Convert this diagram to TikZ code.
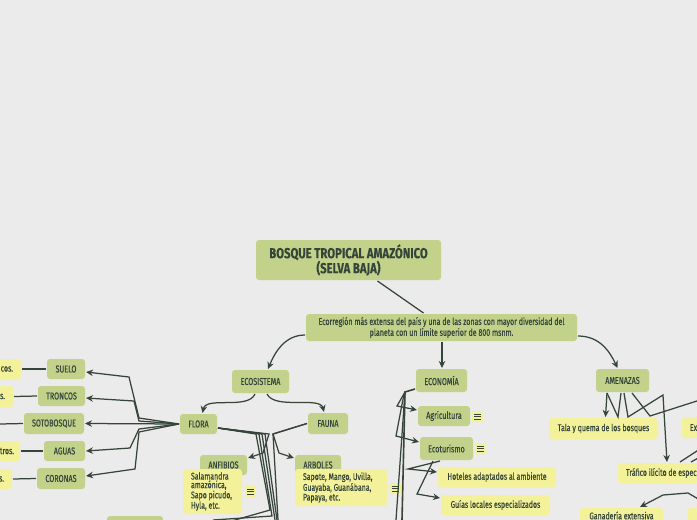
\documentclass[tikz,border=0pt]{standalone}
\usepackage{fontspec}
\setmainfont{Fira Sans}[FakeStretch=0.72,FakeBold=0.35]
\newfontfamily\rootfont{Fira Sans}[FakeStretch=0.78,FakeBold=0.2]
\usetikzlibrary{calc,arrows.meta}
\definecolor{bgc}{HTML}{EBEBEB}
\definecolor{grn}{HTML}{C2D28A}
\definecolor{yel}{HTML}{F3F199}
\definecolor{ink}{HTML}{36453A}
\tikzset{
  box/.style={rounded corners=3pt,inner sep=0pt,outer sep=1pt,align=center,text=ink},
  gbox/.style={box,fill=grn,font=\fontsize{10}{10.5}\selectfont},
  ybox/.style={box,fill=yel,font=\fontsize{9.7}{8.6}\selectfont},
  conn/.style={draw=ink,line width=1.25pt,line join=miter},
  arr/.style={conn,-{Stealth[length=7pt,width=6.5pt]}},
  mbar/.style={draw=ink,line width=.7pt}
}
\newcommand{\bx}[7]{%
  \pgfmathsetmacro{\cxx}{(#3+#5)/2}\pgfmathsetmacro{\cyy}{(#4+#6)/2}%
  \pgfmathsetmacro{\ww}{#5-#3}\pgfmathsetmacro{\hh}{#6-#4}%
  \node[#2,minimum width=\ww pt,minimum height=\hh pt] (#1) at (\cxx,\cyy) {#7};}
\newcommand{\menuicon}[3]{%
  \fill[yel,rounded corners=1pt] (#2,#3) rectangle ++(11,11);
  \draw[mbar] (#2+2,#3+3) -- ++(7,0) (#2+2,#3+5.5) -- ++(7,0) (#2+2,#3+8) -- ++(7,0);}
\begin{document}
\begin{tikzpicture}[x=1pt,y=-1pt]
\clip (0,0) rectangle (697,520);
\fill[bgc] (0,0) rectangle (697,520);
% main
\bx{root}{gbox,font=\fontsize{14.5}{15}\selectfont\rootfont\bfseries}{256}{240}{441}{280}{BOSQUE TROPICAL AMAZÓNICO\\(SELVA BAJA)}
\bx{desc}{gbox,font=\fontsize{9.8}{9.6}\selectfont}{306}{314}{577}{341}{Ecorregión más extensa del país y una de las zonas con mayor diversidad del\\planeta con un límite superior de 800 msnm.}
\bx{ecosis}{gbox}{232}{370}{289}{393}{ECOSISTEMA}
\bx{econ}{gbox}{416}{369}{467}{392}{ECONOMÍA}
\bx{amen}{gbox}{596}{369}{649}{392}{AMENAZAS}
\bx{flora}{gbox}{180}{414}{217}{434}{FLORA}
\bx{fauna}{gbox}{308}{413}{348}{434}{FAUNA}
\bx{suelo}{gbox}{47}{359}{85}{379}{SUELO}
\bx{troncos}{gbox}{38}{386}{85}{406}{TRONCOS}
\bx{soto}{gbox}{24}{413}{84}{434}{SOTOBOSQUE}
\bx{aguas}{gbox}{44}{441}{85}{461}{AGUAS}
\bx{coronas}{gbox}{37}{468}{85}{489}{CORONAS}
\bx{ysuelo}{ybox,text width=25pt,align=flush right}{-20}{359}{21}{379}{cos.}
\bx{ytron}{ybox,text width=17pt,align=flush right}{-20}{386}{13}{407}{s.}
\coordinate (ysoto) at (0,424);
\bx{yagua}{ybox,text width=28pt,align=flush right}{-20}{441}{20}{461}{tros.}
\bx{ycoro}{ybox,text width=16pt,align=flush right}{-20}{469}{12}{489}{s.}
\bx{anf}{gbox}{200}{455}{247}{475}{ANFIBIOS}
\bx{arb}{gbox}{295}{455}{341}{475}{ARBOLES}
\bx{sala}{ybox,text width=43pt,align=flush left}{183}{469}{242}{514}{Salamandra\\amazónica,\\Sapo picudo,\\Hyla, etc.}
\bx{sapo}{ybox,text width=76pt,align=flush left}{295}{469}{387}{506}{Sapote, Mango, Uvilla,\\Guayaba, Guanábana,\\Papaya, etc.}
\bx{bleft}{gbox}{107}{516}{163}{530}{}
\bx{agri}{gbox}{418}{406}{470}{426}{Agricultura}
\bx{ecot}{gbox}{420}{437}{473}{460}{Ecoturismo}
\bx{hote}{ybox}{438}{467}{556}{487}{Hoteles adaptados al ambiente}
\bx{guia}{ybox}{441}{495}{550}{515}{Guías locales especializados}
\bx{tala}{ybox}{549}{418}{658}{439}{Tala y quema de los bosques}
\bx{expl}{ybox,text width=8pt,align=flush left}{682}{417}{706}{438}{Ex}
\bx{traf}{ybox,text width=71pt,align=flush left}{618}{463}{705}{483}{\mbox{Tráfico ilícito de espec}}
\fill[yel,rounded corners=3pt] (580,508) rectangle (663,530);
\bx{gana}{ybox,fill=none}{580}{508}{663}{523}{Ganadería extensiva}
\bx{ylast}{ybox}{688}{508}{705}{526}{}
\menuicon{m1}{245}{486}
\menuicon{m2}{390}{483}
\menuicon{m3}{472}{411}
\menuicon{m4}{475}{443}
% connectors
\draw[conn] ($(root.south)+(29,0)$) -- ($(desc.north)+(-18,0)$);
\draw[arr] (desc.west|-305,335) .. controls (285,335) and (275,352) .. ($(ecosis.north)+(7.5,0)$);
\draw[arr] (desc.south-|442,341) -- (econ.north-|442,369);
\draw[arr] (desc.east|-579,336) .. controls (600,336) and (610,352) .. ($(amen.north)+(-5,0)$);
\draw[arr] ($(ecosis.south)+(-5.5,0)$) .. controls (248,410) and (206,396) .. ($(flora.north)+(4,0)$);
\draw[arr] ($(ecosis.south)+(6.5,0)$) .. controls (275,410) and (320,396) .. ($(fauna.north)+(-4,0)$);
% flora left fan
\draw[arr] (flora.west) -- (139,418) -- (129,377) -- (suelo.east|-86,372);
\draw[arr] (flora.west) -- (139,421) -- (134,401) -- (troncos.east|-86,398);
\draw[arr] (flora.west) -- (soto.east);
\draw[arr] (flora.west) -- (139,429) -- (130,448) -- (aguas.east|-86,451);
\draw[arr] (flora.west) -- (139,432) -- (135,469) -- (coronas.east|-86,476);
% yellow links
\draw[conn] (ysuelo.east) -- (suelo.west);
\draw[conn] (ytron.east) -- (troncos.west);
\draw[conn] (ysoto) -- (soto.west);
\draw[conn] (yagua.east) -- (aguas.west);
\draw[conn] (ycoro.east) -- (coronas.west);
% flora down
\coordinate (fl) at ($(flora.east)+(0,4)$);
\draw[arr] (fl) -- (269,434) -- (263,453) -- (anf.east|-248,458);
\draw[conn] (fl) -- (265,434) -- (277,520);
\draw[conn] (fl) -- (262,434) -- (275,520);
\draw[conn] (fl) -- (259,434) -- (272,516) -- (213,520);
\draw[conn] (fl) -- (256,434) -- (270,510) -- (200,530);
% fauna
\draw[arr] (fauna.west) -- (273,434) -- (279,453) -- (arb.west|-295,458);
\draw[conn] (fauna.west) -- (273,434) -- (278,520);
% economia
\draw[conn,line width=1.6pt] (econ.west|-415,389) -- (405,392) -- (402,520);
\draw[conn] (405,392) -- (396,520);
\draw[arr] (405,392) -- (397,406) -- (agri.west|-417,410);
\draw[arr] (404,394) -- (396,436) -- (ecot.west|-419,442);
% ecoturismo
\draw[arr] (ecot.south-|440,461) -- (408,469) -- (hote.west|-437,472);
\draw[arr] (ecot.south-|433,461) -- (417,494) -- (guia.west|-440,498);
% amenazas
\draw[arr] (amen.south-|607,393) -- (tala.north-|605.5,418);
\draw[conn] (amen.south-|607,393) -- (618,417) -- (amen.south-|621,393);
\draw[arr] (amen.south-|624,393) -- (628,417) -- (663,395) -- (traf.north-|667,463);
\draw[conn] (amen.south-|632,393) -- (650,416) -- (700,400);
\draw[conn] (traf.north-|680,463) -- (700,449);
\draw[conn] (traf.north-|691,463) -- (700,457);
\draw[arr] (700,500) -- (688,493) -- (663,495) -- (gana.north-|640,508);
\end{tikzpicture}
\end{document}
